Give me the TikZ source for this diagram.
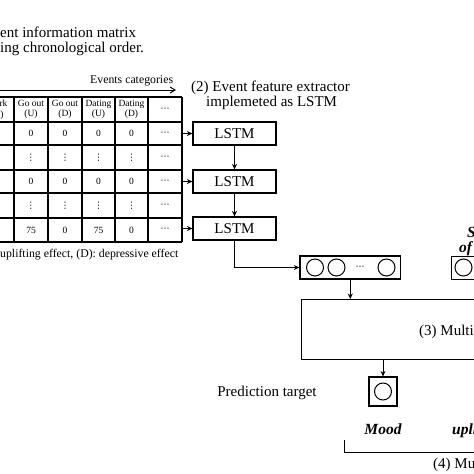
\documentclass[tikz,border=0pt]{standalone}
\usepackage{fontspec}
\setmainfont{Liberation Serif}
\newfontfamily\symfont{DejaVu Sans}
\usetikzlibrary{arrows.meta}
\newcommand{\vdt}{{\symfont\fontsize{9}{10}\selectfont ⋮}}
\newcommand{\hdt}{{\symfont\fontsize{9}{10}\selectfont ⋯}}
\begin{document}
\begin{tikzpicture}[x=1pt,y=-1pt,
  box/.style={draw, line width=1.2pt, inner sep=0pt},
  circ/.style={draw, circle, line width=1pt, minimum size=17pt, inner sep=0pt},
  arr/.style={-{Stealth[length=5.5pt,width=5pt]}, line width=1pt},
  bigtxt/.style={font=\fontsize{15}{17}\selectfont, inner sep=0pt},
  smalltxt/.style={font=\fontsize{11.8}{13}\selectfont, inner sep=0pt},
  cell/.style={font=\fontsize{9.5}{10.5}\selectfont, align=center, inner sep=0pt},
  gridline/.style={line width=1.6pt},
  bitxt/.style={font=\fontsize{15.5}{17}\selectfont\bfseries\itshape, inner sep=0pt}]
\useasboundingbox (0,0) rectangle (474,474);
\clip (0,0) rectangle (474,474);

% title text (1)
\node[bigtxt, anchor=base west] (t1a) at (0,37) {ent information matrix};
\node[bigtxt, anchor=base west] (t1b) at (0,52) {ing chronological order.};

% events categories arrow
\node[smalltxt, anchor=base west] (evc) at (90,83) {Events categories};
\coordinate (ea) at (-5,90);
\coordinate (eb) at (176,90);
\draw[-{Straight Barb[length=5pt,width=6pt]}, line width=1pt] (ea) -- (eb);

% table grid
\foreach \y in {97,122,145,170,193,218,242} \draw[gridline] (-5,\y) -- (182,\y);
\foreach \x in {14,48,82,115,148,182} \draw[gridline] (\x,97) -- (\x,242);

% header
\node[cell] (h0) at (-3,109.5) {Work\\(U)};
\node[cell] (h1) at (31,109.5) {Go out\\(U)};
\node[cell] (h2) at (65,109.5) {Go out\\(D)};
\node[cell] (h3) at (98.5,109.5) {Dating\\(U)};
\node[cell] (h4) at (131.5,109.5) {Dating\\(D)};
\node[cell] (h5) at (165,109.5) {\hdt};

% rows
\node[cell] (a1) at (31,133.5) {0};
\node[cell] (a2) at (65,133.5) {0};
\node[cell] (a3) at (98.5,133.5) {0};
\node[cell] (a4) at (131.5,133.5) {0};
\node[cell] (a5) at (165,133.5) {\hdt};

\node[cell] (b1) at (31,157.5) {\vdt};
\node[cell] (b2) at (65,157.5) {\vdt};
\node[cell] (b3) at (98.5,157.5) {\vdt};
\node[cell] (b4) at (131.5,157.5) {\vdt};
\node[cell] (b5) at (165,157.5) {\hdt};

\node[cell] (c1) at (31,181.5) {0};
\node[cell] (c2) at (65,181.5) {0};
\node[cell] (c3) at (98.5,181.5) {0};
\node[cell] (c4) at (131.5,181.5) {0};
\node[cell] (c5) at (165,181.5) {\hdt};

\node[cell] (d1) at (31,205.5) {\vdt};
\node[cell] (d2) at (65,205.5) {\vdt};
\node[cell] (d3) at (98.5,205.5) {\vdt};
\node[cell] (d4) at (131.5,205.5) {\vdt};
\node[cell] (d5) at (165,205.5) {\hdt};

\node[cell] (e1) at (31,230) {75};
\node[cell] (e2) at (65,230) {0};
\node[cell] (e3) at (98.5,230) {75};
\node[cell] (e4) at (131.5,230) {0};
\node[cell] (e5) at (165,230) {\hdt};

\node[smalltxt, anchor=base west] (leg) at (0,257) {uplifting effect, (D): depressive effect};

% (2) LSTM
\node[bigtxt, anchor=base west] (t2a) at (191,91) {(2) Event feature extractor};
\node[bigtxt, anchor=base west] (t2b) at (206,106) {implemeted as LSTM};

\node[box, bigtxt, minimum width=83pt, minimum height=23pt] (l1) at (234.5,133.5) {LSTM};
\node[box, bigtxt, minimum width=83pt, minimum height=23pt] (l2) at (234.5,181.5) {LSTM};
\node[box, bigtxt, minimum width=83pt, minimum height=23pt] (l3) at (234.5,228.5) {LSTM};

\coordinate (r1) at (182,133.5);
\coordinate (r3) at (182,181.5);
\coordinate (r5) at (182,228.5);
\draw[arr] (r1) -- (l1.west);
\draw[arr] (r3) -- (l2.west);
\draw[arr] (r5) -- (l3.west);
\draw[arr] (l1.south) -- (l2.north);
\draw[arr] (l2.south) -- (l3.north);

% feature vector
\node[box, minimum width=100.7pt, minimum height=23pt] (vec) at (350.3,267.5) {};
\node[circ] (v1) at (315,267.5) {};
\node[circ] (v2) at (336.5,267.5) {};
\node[cell] (vd) at (360,267.5) {\hdt};
\node[circ] (v3) at (386.5,267.5) {};
\draw[arr] (l3.south) |- (vec.west);

% right box (partially visible)
\node[bitxt, anchor=base west] (st1) at (467,237) {S};
\node[bitxt, anchor=base west] (st2) at (459,252) {of};
\node[box, minimum width=60pt, minimum height=23pt, anchor=north west] (sbox) at (451,256) {};
\node[circ] (s1) at (463.5,267.5) {};

% (3) big box
\node[box, minimum width=300pt, minimum height=60pt, anchor=north west] (mtl) at (300.7,299) {};
\node[bigtxt, anchor=base west] (t3) at (419,335) {(3) Multi};
\draw[arr] (vec.south) -- (vec.south |- mtl.north);

% prediction
\node[box, minimum width=28pt, minimum height=29pt] (pred) at (383,391.5) {};
\node[circ] (p1) at (383,391.5) {};
\draw[arr] (mtl.south -| pred.north) -- (pred.north);
\node[bigtxt, anchor=base] (pt) at (267,396) {Prediction target};

\node[bitxt, anchor=base] (mood) at (383,434) {Mood};
\node[bitxt, anchor=base west] (upl) at (452,434) {uplifting};

% (4) bracket
\coordinate (bk1) at (344,440);
\coordinate (bk2) at (344,452);
\coordinate (bk3) at (480,452);
\draw[line width=1pt] (bk1) -- (bk2) -- (bk3);
\node[bigtxt, anchor=base west] (t4) at (433,468) {(4) Multi};
\end{tikzpicture}
\end{document}
